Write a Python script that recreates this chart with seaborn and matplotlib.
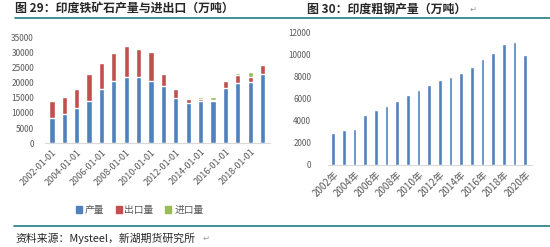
import matplotlib
matplotlib.use('Agg')
import matplotlib.pyplot as plt
from matplotlib.patches import Patch
from matplotlib.lines import Line2D
import seaborn as sns
import pandas as pd

# 图29 数据 (万吨)
ore_years = [str(y) for y in range(2002, 2020)]
ore_prod = [8500, 9700, 11800, 14100, 17800, 20500, 21900, 21900, 20600, 18900,
            15100, 13300, 13900, 14100, 18200, 19900, 20200, 23000]
ore_export = [5400, 5700, 6200, 8900, 8800, 9400, 10300, 9200, 9700, 3900,
              2800, 1300, 600, 300, 2200, 2800, 1700, 3000]
ore_import = [200, 200, 300, 200, 200, 200, 300, 300, 200, 200,
              300, 400, 800, 900, 300, 500, 1600, 300]

# 图30 数据 (万吨)
steel_years = [str(y) for y in range(2002, 2021)]
steel_prod = [2870, 3170, 3260, 4560, 4950, 5350, 5770, 6310, 6830, 7250,
              7670, 8000, 8300, 8850, 9580, 10150, 10940, 11120, 10000]

blue = '#4F81BD'
red = '#C0504D'
green = '#9BBB59'
grey = '#595959'
teal = '#1f7f80'

sns.set_style('white')
plt.rcParams['font.family'] = ['Noto Sans CJK SC', 'DejaVu Sans']

fig = plt.figure(figsize=(5.5, 2.47), dpi=100)

ore = pd.DataFrame({'year': ore_years, 'prod': ore_prod,
                    'export': ore_export, 'import': ore_import})
ore['top_red'] = ore['prod'] + ore['export']
ore['top_green'] = ore['top_red'] + ore['import']

# 左图：堆叠柱（从总量往下叠画）
ax1 = fig.add_axes([0.082, 0.42, 0.409, 0.429])
sns.barplot(data=ore, x='year', y='top_green', color=green, width=0.42,
            saturation=1, ax=ax1)
sns.barplot(data=ore, x='year', y='top_red', color=red, width=0.42,
            saturation=1, ax=ax1)
sns.barplot(data=ore, x='year', y='prod', color=blue, width=0.42,
            saturation=1, ax=ax1)
ax1.set_xlim(-0.55, len(ore_years) - 0.4)
ax1.set_ylim(0, 35000)
ax1.set_yticks(range(0, 35001, 5000))
ax1.set_xticks(range(0, len(ore_years), 2))
ax1.set_xticklabels([y + '-01-01' for y in ore_years[::2]], rotation=45,
                    ha='right', rotation_mode='anchor')
ax1.set_xlabel('')
ax1.set_ylabel('')
ax1.tick_params(axis='x', length=0, labelsize=6.5, colors=grey, pad=3)
ax1.tick_params(axis='y', length=0, labelsize=6, colors=grey, pad=8)
ax1.set_xticks([i + 0.5 for i in range(-1, len(ore_years))], minor=True)
ax1.tick_params(axis='x', which='minor', length=2, color='#d9d9d9')
for s in ['left', 'right', 'top']:
    ax1.spines[s].set_visible(False)
ax1.spines['bottom'].set_color('#d9d9d9')
handles = [Patch(color=blue, label='产量'), Patch(color=red, label='出口量'),
           Patch(color=green, label='进口量')]
leg = ax1.legend(handles=handles, loc='upper center', bbox_to_anchor=(0.42, -0.5),
                 ncol=3, frameon=False, fontsize=7, handlelength=0.6,
                 handleheight=0.6, handletextpad=0.3, columnspacing=1.2)
for t in leg.get_texts():
    t.set_color(grey)

# 右图：粗钢产量
steel = pd.DataFrame({'year': steel_years, 'prod': steel_prod})
ax2 = fig.add_axes([0.596, 0.333, 0.371, 0.535])
sns.barplot(data=steel, x='year', y='prod', color=blue, width=0.34,
            saturation=1, ax=ax2)
ax2.set_xlim(-0.5, len(steel_years) - 0.37)
ax2.set_ylim(0, 12000)
ax2.set_yticks(range(0, 12001, 2000))
ax2.set_xticks(range(0, len(steel_years), 2))
ax2.set_xticklabels([y + '年' for y in steel_years[::2]], rotation=45,
                    ha='right', rotation_mode='anchor')
ax2.set_xlabel('')
ax2.set_ylabel('')
ax2.tick_params(axis='x', length=0, labelsize=7, colors=grey, pad=3)
ax2.tick_params(axis='y', length=0, labelsize=5.8, colors=grey, pad=12)
for s in ['left', 'right', 'top']:
    ax2.spines[s].set_visible(False)
ax2.spines['bottom'].set_color('#d9d9d9')

# 标题、分隔线、资料来源
fig.text(15 / 550, 1 - 9 / 247, '图 29：印度铁矿石产量与进出口（万吨）',
         fontsize=8.6, fontweight='bold', va='center', ha='left')
fig.text(307 / 550, 1 - 9 / 247, '图 30：印度粗钢产量（万吨）',
         fontsize=8.6, fontweight='bold', va='center', ha='left')
fig.text(470 / 550, 1 - 9 / 247, '↵', fontsize=6, color='#999999',
         va='center', ha='left', family='DejaVu Sans')
fig.add_artist(Line2D([15 / 550, 1], [1 - 18 / 247] * 2, color=teal, lw=1.2))
fig.add_artist(Line2D([14 / 550, 1], [1 - 225.5 / 247] * 2, color=teal, lw=1.2))
fig.text(15 / 550, 1 - 238 / 247, '资料来源：Mysteel，新湖期货研究所',
         fontsize=7.8, va='center', ha='left')
fig.text(203 / 550, 1 - 238 / 247, '↵', fontsize=6, color='#999999',
         va='center', ha='left', family='DejaVu Sans')

fig.savefig('out.png', dpi=100)
